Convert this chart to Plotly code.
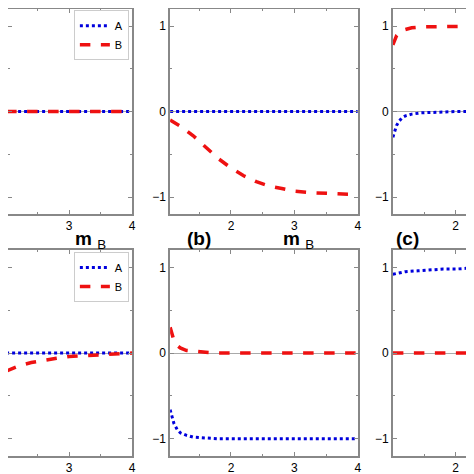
import plotly.graph_objects as go

# data
x_a = [2.0, 2.5, 3.0, 3.5, 4.0]
a_A = [0, 0, 0, 0, 0]
a_B = [0, 0, 0, 0, 0]

x_b = [1.04, 1.2, 1.4, 1.6, 1.8, 2.0, 2.2, 2.4, 2.6, 2.8, 3.0, 3.3, 3.6, 4.0]
b_A = [0] * len(x_b)
b_B = [-0.1, -0.17, -0.28, -0.42, -0.55, -0.66, -0.75, -0.82, -0.87, -0.9, -0.93, -0.95, -0.96, -0.97]

x_c = [1.0, 1.03, 1.06, 1.1, 1.15, 1.2, 1.3, 1.45, 1.6, 1.8, 2.0, 2.2, 2.42]
c_A = [-0.3, -0.22, -0.16, -0.11, -0.07, -0.05, -0.03, -0.015, -0.01, -0.005, 0, 0, 0]
c_B = [0.78, 0.85, 0.89, 0.92, 0.95, 0.96, 0.98, 0.99, 0.99, 1.0, 1.0, 1.0, 1.0]

x_d = [2.0, 2.2, 2.4, 2.6, 2.8, 3.0, 3.2, 3.4, 3.6, 3.8, 4.0]
d_A = [0] * len(x_d)
d_B = [-0.21, -0.15, -0.11, -0.08, -0.06, -0.04, -0.03, -0.02, -0.01, -0.005, 0]

x_e = [1.04, 1.07, 1.1, 1.15, 1.2, 1.3, 1.4, 1.6, 1.8, 2.0, 2.5, 3.0, 3.5, 4.0]
e_A = [-0.66, -0.75, -0.82, -0.89, -0.93, -0.96, -0.98, -0.99, -1.0, -1.0, -1.0, -1.0, -1.0, -1.0]
e_B = [0.3, 0.22, 0.15, 0.09, 0.06, 0.03, 0.02, 0.01, 0, 0, 0, 0, 0, 0]

x_f = [1.0, 1.2, 1.4, 1.6, 1.8, 2.0, 2.2, 2.42]
f_A = [0.92, 0.95, 0.96, 0.97, 0.98, 0.98, 0.99, 0.99]
f_B = [0] * len(x_f)

panels = [
    (x_a, a_A, a_B, [2.03, 4.0], [0, 0.262], [0.565, 0.998], ""),
    (x_b, b_A, b_B, [1.04, 4.0], [0.342, 0.738], [0.565, 0.998], "(b)"),
    (x_c, c_A, c_B, [1.0, 2.42], [0.812, 1.0], [0.565, 0.998], "(c)"),
    (x_d, d_A, d_B, [2.03, 4.0], [0, 0.262], [0.055, 0.489], ""),
    (x_e, e_A, e_B, [1.04, 4.0], [0.342, 0.738], [0.055, 0.489], "(e)"),
    (x_f, f_A, f_B, [1.0, 2.42], [0.812, 1.0], [0.055, 0.489], "(f)"),
]

fig = go.Figure()
annos = []
for i, (x, yA, yB, xr, xd, yd, lab) in enumerate(panels):
    n = "" if i == 0 else str(i + 1)
    xa, ya = "x" + n, "y" + n
    show = i in (0, 3)
    fig.add_trace(go.Scatter(x=x, y=yA, mode="lines", name="A", xaxis=xa, yaxis=ya,
                             line=dict(color="#0000dd", width=3, dash="dot"),
                             showlegend=show, legend="legend" if i == 0 else "legend2"))
    fig.add_trace(go.Scatter(x=x, y=yB, mode="lines", name="B", xaxis=xa, yaxis=ya,
                             line=dict(color="#ee1111", width=3.5, dash="dash"),
                             showlegend=show, legend="legend" if i == 0 else "legend2"))
    ax = dict(domain=xd, range=xr, tickvals=[2, 3, 4], ticks="inside", ticklen=4,
              showline=True, linecolor="#888888", linewidth=1.5, mirror="ticks",
              showgrid=False, zeroline=False, tickfont=dict(size=12, color="black"),
              anchor=ya, automargin=False, tickcolor="#888888",
              minor=dict(ticks="inside", ticklen=2, dtick=0.5, tickcolor="#888888"))
    ay = dict(domain=yd, range=[-1.2, 1.2], tickvals=[-1, 0, 1], ticks="inside", ticklen=4,
              showline=True, linecolor="#888888", linewidth=1.5, mirror="ticks",
              showgrid=False, zeroline=True, zerolinecolor="#aaaaaa", zerolinewidth=1,
              tickfont=dict(size=12, color="black"), anchor=xa, automargin=False,
              tickcolor="#888888",
              minor=dict(ticks="inside", ticklen=2, dtick=0.5, tickcolor="#888888"))
    fig.update_layout({"xaxis" + n: ax, "yaxis" + n: ay})
    ybot = yd[0]
    if lab:
        annos.append(dict(x=xd[0] + 0.06, y=ybot - 0.025, xref="paper", yref="paper", text="<b>" + lab + "</b>",
                          showarrow=False, font=dict(size=19, color="black"), yanchor="top"))
    if i in (0, 1, 3, 4):
        annos.append(dict(x=xd[1] - 0.125, y=ybot - 0.025, xref="paper", yref="paper",
                          text="<b>m</b> <sub>B</sub>", showarrow=False,
                          font=dict(size=19, color="black"), yanchor="top"))

leg = dict(x=0.255, xanchor="right", bgcolor="white", bordercolor="#cccccc", borderwidth=1,
           font=dict(size=11, color="black"), tracegroupgap=0, itemwidth=30)
fig.update_layout(
    width=474, height=474, margin=dict(l=0, r=0, t=0, b=0, autoexpand=False),
    plot_bgcolor="white", paper_bgcolor="white",
    font=dict(family="Arial, Liberation Sans"),
    annotations=annos,
    legend=dict(leg, y=0.995, yanchor="top"),
    legend2=dict(leg, y=0.485, yanchor="top"),
)
fig.write_html("out.html")
